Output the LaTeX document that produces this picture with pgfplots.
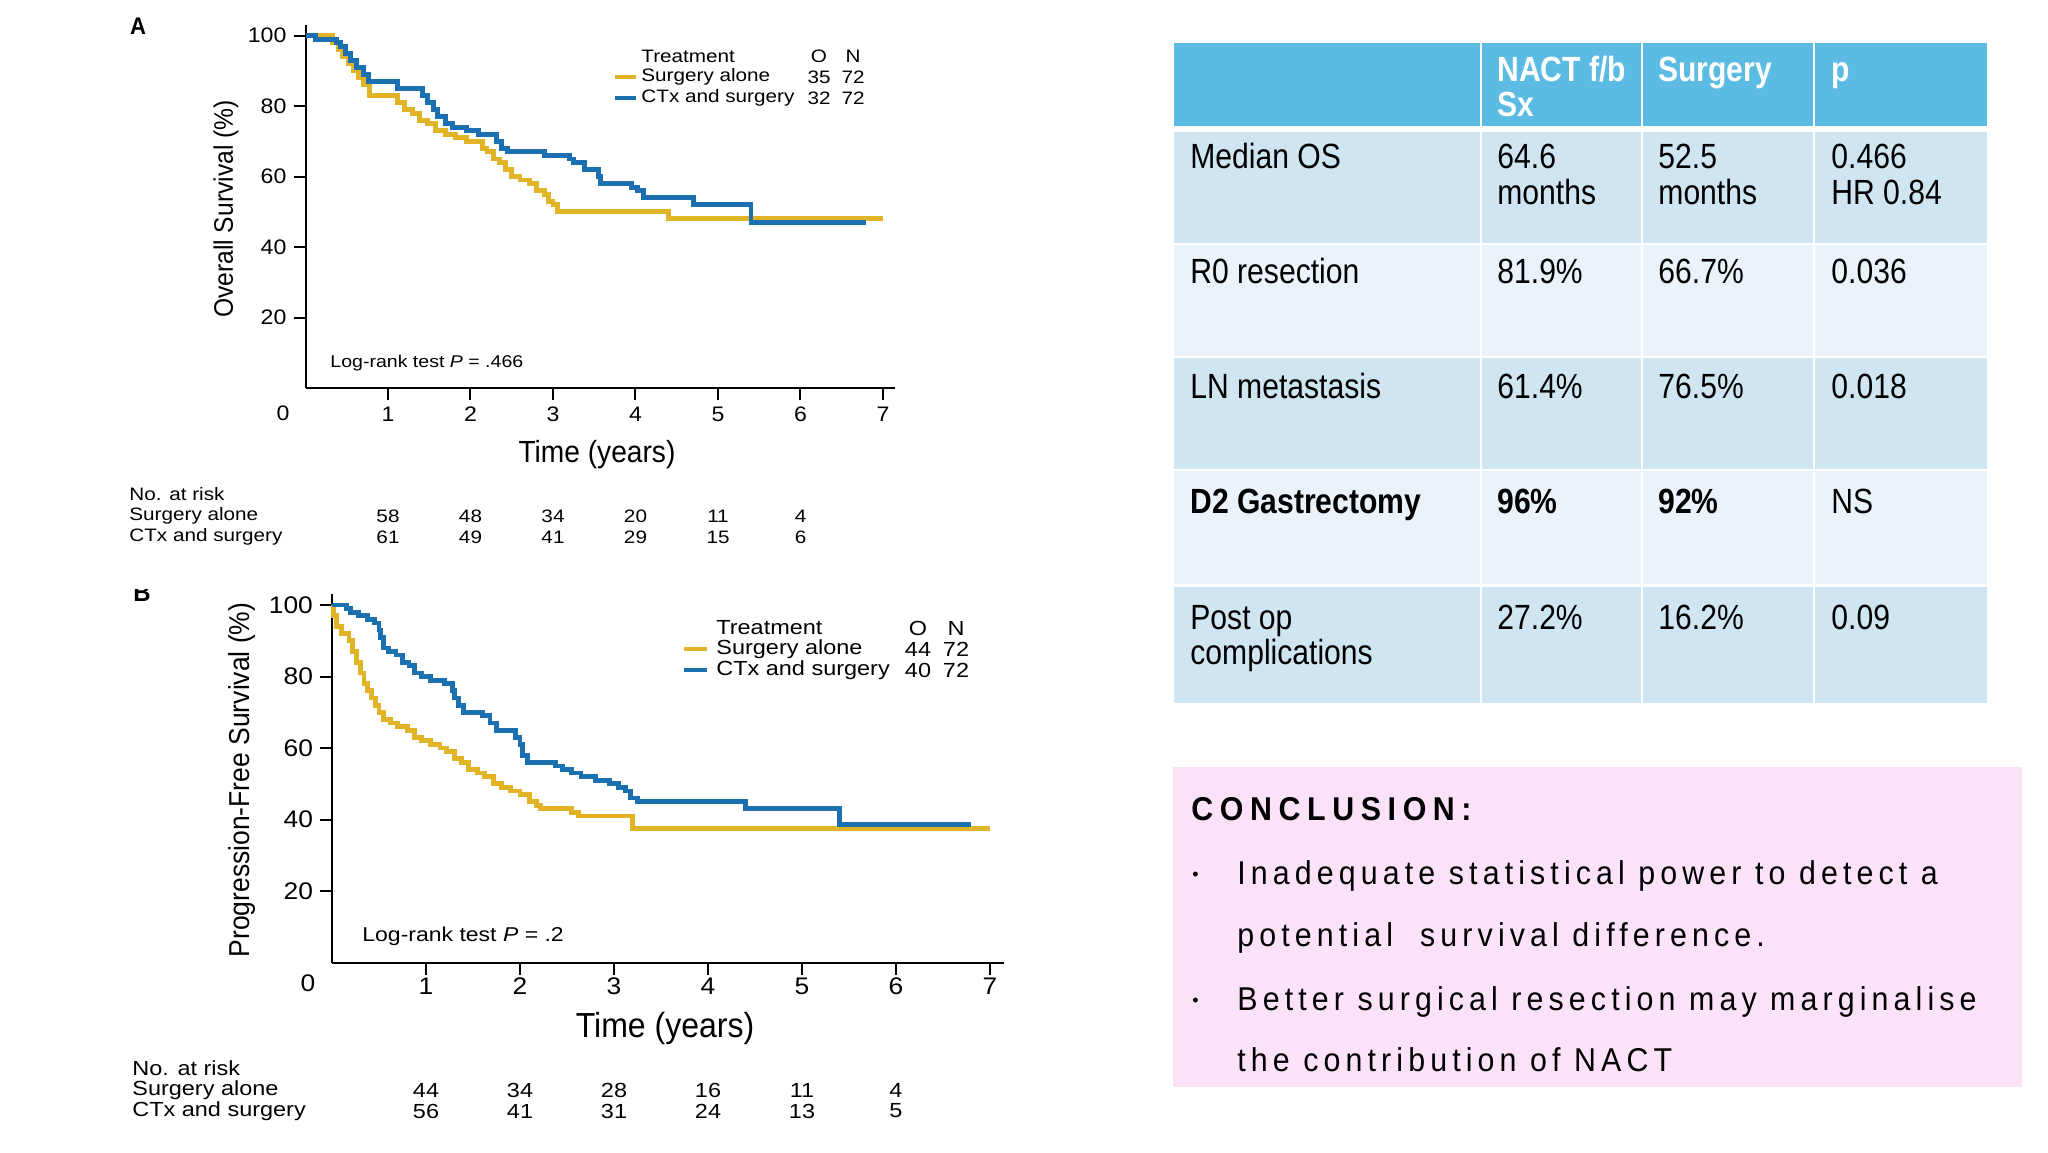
\documentclass[border=0pt]{standalone}
\usepackage{pgfplots}
\pgfplotsset{compat=1.18}
\usepackage{fontspec}
\setmainfont{Liberation Sans}
\newfontfamily\tickfont{Liberation Sans}[FakeStretch=1.1]
\newfontfamily\legfont{Liberation Sans}[FakeStretch=1.15]
\newfontfamily\labfont{Liberation Sans}[FakeStretch=0.92]
\newfontfamily\tabfont{Liberation Sans}[FakeStretch=0.86]
\newfontfamily\concfont{Liberation Sans}[FakeStretch=0.92,LetterSpace=15.5]
\newfontfamily\conchead{Liberation Sans}[FakeStretch=0.92,LetterSpace=20]
\definecolor{kmgold}{RGB}{224,180,38}
\definecolor{kmblue}{RGB}{26,112,176}
\definecolor{hdr}{RGB}{92,187,226}
\definecolor{rowdark}{RGB}{207,229,242}
\definecolor{rowlight}{RGB}{233,243,249}
\definecolor{pinkbg}{RGB}{252,226,248}
\pgfplotsset{km/.style={scale only axis, axis x line*=bottom, axis y line*=left,
  xmin=0, xmax=7.15, ymin=0, ymax=103, xtick={1,...,7}, ytick={20,40,60,80,100},
  tick align=outside, major tick length=6pt,
  axis line style={line width=1pt,black}, tick style={line width=1pt,black},
  /pgf/number format/assume math mode=true, clip=false,
  every axis plot/.append style={const plot mark left, line width=2.4pt, mark=none}}}
\begin{document}
\begin{tikzpicture}
\fill[white] (0,0) rectangle (1024pt,-576pt);

% ---------------- Plot A ----------------
\begin{axis}[km, at={(152.75pt,-194pt)}, anchor=south west, width=294.9pt, height=181.5pt,
  tick label style={font=\tickfont\fontsize{10.5}{12}\selectfont}]
\addplot[kmgold] coordinates {(0,100) (0.33,98) (0.4,96) (0.45,94) (0.52,92) (0.58,90) (0.64,88) (0.7,86) (0.78,83) (1.12,81) (1.2,79) (1.3,78) (1.38,76) (1.48,75) (1.58,73) (1.7,72) (1.82,71) (1.95,70) (2.15,68) (2.2,67) (2.28,65) (2.35,64) (2.42,62) (2.5,60) (2.6,59) (2.72,58) (2.8,56) (2.9,55) (2.95,53) (3.0,52) (3.05,50) (4.4,48) (7.0,48)};
\addplot[kmblue] coordinates {(0,100) (0.12,99) (0.38,98) (0.42,97) (0.48,95) (0.55,93) (0.62,91) (0.7,89) (0.76,87) (1.12,85) (1.42,83) (1.48,81) (1.55,79) (1.6,77) (1.7,75) (1.78,74) (1.95,73) (2.1,72) (2.32,70) (2.38,68) (2.45,67) (2.9,66) (3.2,65) (3.25,64) (3.38,62) (3.55,60) (3.58,58) (3.95,57) (4.02,56) (4.1,54) (4.7,52) (5.4,47) (6.8,47)};
\end{axis}

% ---------------- Plot B ----------------
\begin{axis}[km, at={(166pt,-481.25pt)}, anchor=south west, width=336pt, height=184.1pt,
  tick label style={font=\tickfont\fontsize{12}{14}\selectfont},
  xticklabel style={yshift=2pt}]
\addplot[kmgold] coordinates {(0,100) (0.02,97) (0.05,94) (0.1,92) (0.18,90) (0.22,87) (0.26,84) (0.3,81) (0.34,78) (0.38,76) (0.42,74) (0.46,72) (0.5,70) (0.55,68) (0.62,67) (0.7,66) (0.8,65) (0.88,63) (0.95,62) (1.05,61) (1.15,60) (1.22,59) (1.3,57) (1.38,56) (1.45,54) (1.55,53) (1.62,52) (1.72,50) (1.8,49) (1.9,48) (2.0,47) (2.1,45) (2.18,44) (2.22,43) (2.55,42) (2.62,41) (3.2,37.5) (7.0,37.5)};
\addplot[kmblue] coordinates {(0,100) (0.15,99) (0.2,98) (0.28,97) (0.38,96) (0.45,95) (0.5,93) (0.52,91) (0.55,88) (0.6,87) (0.68,86) (0.75,84) (0.82,83) (0.88,81) (0.95,80) (1.05,79) (1.2,78) (1.28,76) (1.3,74) (1.35,72) (1.4,70) (1.6,69) (1.68,67) (1.75,65) (1.95,63) (2.0,61) (2.03,58) (2.08,56) (2.38,55) (2.45,54) (2.55,53) (2.65,52) (2.8,51) (2.95,50) (3.05,49) (3.12,48) (3.18,46) (3.25,45) (4.4,43) (5.4,38.5) (6.8,38.5)};
\end{axis}

\begin{scope}[x=0.5pt,y=-0.5pt]
% ---- Plot A texts ----
\node[font=\labfont\bfseries\fontsize{12}{14}\selectfont] at (138,26) {A};
\node[font=\tickfont\fontsize{10.5}{12}\selectfont] at (283,413) {0};
\node[font=\labfont\fontsize{15.3}{18}\selectfont] at (597,454.5) {Time (years)};
\node[font=\labfont\fontsize{13.4}{16}\selectfont, rotate=90] at (226,209) {Overall Survival (\%)};
\node[font=\legfont\fontsize{8.5}{10}\selectfont, anchor=west, inner sep=0] at (330,363) {Log-rank test {\itshape P} = .466};
\begin{scope}[font=\legfont\fontsize{9}{11}\selectfont]
\node[anchor=west, inner sep=0] at (641,56) {Treatment};
\node at (819,56) {O}; \node at (853,56) {N};
\draw[kmgold, line width=2.2pt] (615,77) -- (636,77);
\node[anchor=west, inner sep=0] at (641,77) {Surgery alone};
\node at (819,77) {35}; \node at (853,77) {72};
\draw[kmblue, line width=2.2pt] (615,98) -- (636,98);
\node[anchor=west, inner sep=0] at (641,98) {CTx and surgery};
\node at (819,98) {32}; \node at (853,98) {72};
\end{scope}
\begin{scope}[font=\legfont\fontsize{9}{11}\selectfont]
\node[anchor=west, inner sep=0] at (129,494) {No. at risk};
\node[anchor=west, inner sep=0] at (129,516) {Surgery alone};
\node[anchor=west, inner sep=0] at (129,537) {CTx and surgery};
\foreach \xx/\a/\b in {388/58/61, 470.5/48/49, 553/34/41, 635.5/20/29, 718/11/15, 800.5/4/6}{
  \node at (\xx,516) {\a}; \node at (\xx,537) {\b};}
\end{scope}

% ---- Plot B texts ----
\begin{scope}
\clip (100,589) rectangle (200,640);
\node[font=\labfont\bfseries\fontsize{13}{15}\selectfont] at (142,593) {B};
\end{scope}
\node[font=\tickfont\fontsize{12}{14}\selectfont] at (308,983) {0};
\node[font=\labfont\fontsize{17.4}{20}\selectfont] at (665,1028) {Time (years)};
\node[font=\labfont\fontsize{14.4}{17}\selectfont, rotate=90] at (242,780) {Progression-Free Survival (\%)};
\node[font=\legfont\fontsize{10}{12}\selectfont, anchor=west, inner sep=0] at (362,936) {Log-rank test {\itshape P} = .2};
\begin{scope}[font=\legfont\fontsize{10.2}{12}\selectfont]
\node[anchor=west, inner sep=0] at (716,628) {Treatment};
\node at (918,628) {O}; \node at (956,628) {N};
\draw[kmgold, line width=2.4pt] (684,649) -- (707,649);
\node[anchor=west, inner sep=0] at (716,649) {Surgery alone};
\node at (918,649) {44}; \node at (956,649) {72};
\draw[kmblue, line width=2.4pt] (684,670) -- (707,670);
\node[anchor=west, inner sep=0] at (716,670) {CTx and surgery};
\node at (918,670) {40}; \node at (956,670) {72};
\end{scope}
\begin{scope}[font=\legfont\fontsize{10.2}{12}\selectfont]
\node[anchor=west, inner sep=0] at (132,1068) {No. at risk};
\node[anchor=west, inner sep=0] at (132,1090) {Surgery alone};
\node[anchor=west, inner sep=0] at (132,1111) {CTx and surgery};
\foreach \xx/\a/\b in {426/44/56, 520/34/41, 614/28/31, 708/16/24, 802/11/13, 896/4/5}{
  \node at (\xx,1090) {\a}; \node at (\xx,1111) {\b};}
\end{scope}

% ---- Table ----
\fill[hdr] (1174,43) rectangle (1480,125.5);
\fill[hdr] (1482,43) rectangle (1641,125.5);
\fill[hdr] (1643,43) rectangle (1813,125.5);
\fill[hdr] (1815,43) rectangle (1987,125.5);
\foreach \ya/\yb/\c in {132/243/rowdark, 245/356/rowlight, 358/469/rowdark, 471/584/rowlight, 587/703/rowdark}{
  \fill[\c] (1174,\ya) rectangle (1480,\yb);
  \fill[\c] (1482,\ya) rectangle (1641,\yb);
  \fill[\c] (1643,\ya) rectangle (1813,\yb);
  \fill[\c] (1815,\ya) rectangle (1987,\yb);}
\begin{scope}[font=\tabfont\fontsize{17.5}{20}\selectfont, every node/.style={anchor=base west, inner sep=0}]
\node[text=white, font=\tabfont\bfseries\fontsize{17.5}{20}\selectfont] at (1497,81.5) {NACT f/b};
\node[text=white, font=\tabfont\bfseries\fontsize{17.5}{20}\selectfont] at (1497,116.5) {Sx};
\node[text=white, font=\tabfont\bfseries\fontsize{17.5}{20}\selectfont] at (1658,81.5) {Surgery};
\node[text=white, font=\tabfont\bfseries\fontsize{17.5}{20}\selectfont] at (1831,81.5) {p};
\node at (1190,168.5) {Median OS};
\node at (1497,168.5) {64.6}; \node at (1497,204) {months};
\node at (1658,168.5) {52.5}; \node at (1658,204) {months};
\node at (1831,168.5) {0.466}; \node at (1831,204) {HR 0.84};
\node at (1190,283) {R0 resection}; \node at (1497,283) {81.9\%}; \node at (1658,283) {66.7\%}; \node at (1831,283) {0.036};
\node at (1190,398) {LN metastasis}; \node at (1497,398) {61.4\%}; \node at (1658,398) {76.5\%}; \node at (1831,398) {0.018};
\node[font=\tabfont\bfseries\fontsize{17.5}{20}\selectfont] at (1190,513) {D2 Gastrectomy};
\node[font=\tabfont\bfseries\fontsize{17.5}{20}\selectfont] at (1497,513) {96\%};
\node[font=\tabfont\bfseries\fontsize{17.5}{20}\selectfont] at (1658,513) {92\%};
\node at (1831,513) {NS};
\node at (1190,629) {Post op}; \node at (1190,664.5) {complications};
\node at (1497,629) {27.2\%}; \node at (1658,629) {16.2\%}; \node at (1831,629) {0.09};
\end{scope}

% ---- Conclusion ----
\fill[pinkbg] (1173,767) rectangle (2022,1087);
\node[anchor=base west, inner sep=0, font=\conchead\bfseries\fontsize{16.5}{19}\selectfont] at (1191,820.5) {CONCLUSION:};
\begin{scope}[font=\concfont\fontsize{16.5}{19}\selectfont, every node/.style={anchor=base west, inner sep=0}]
\node[font=\fontsize{9}{11}\selectfont] at (1192,880) {\textbullet};
\node at (1237,884.5) {Inadequate statistical power to detect a};
\node at (1237,946) {potential\ \ survival difference.};
\node[font=\fontsize{9}{11}\selectfont] at (1192,1006) {\textbullet};
\node at (1237,1010) {Better surgical resection may marginalise};
\node at (1237,1071.5) {the contribution of NACT};
\end{scope}
\end{scope}
\pgfresetboundingbox
\path[use as bounding box] (0,0) rectangle (1024pt,-576pt);
\end{tikzpicture}
\end{document}
